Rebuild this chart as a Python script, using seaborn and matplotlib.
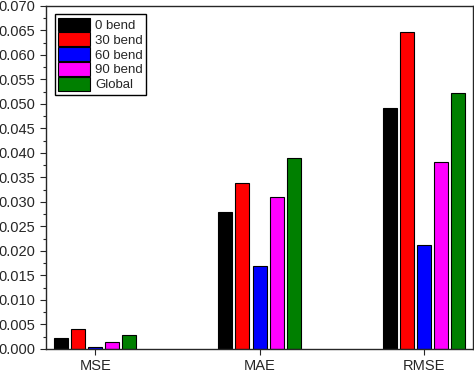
import pandas as pd
import matplotlib.pyplot as plt
import seaborn as sns
from matplotlib.ticker import MultipleLocator

metrics = ['MSE', 'MAE', 'RMSE']
series = ['0 bend', '30 bend', '60 bend', '90 bend', 'Global']
bend0 = [0.0023, 0.0280, 0.0491]
bend30 = [0.0041, 0.0338, 0.0646]
bend60 = [0.0004, 0.0169, 0.0213]
bend90 = [0.0014, 0.0311, 0.0382]
glob = [0.0028, 0.0390, 0.0522]
colors = ['#000000', '#ff0000', '#0000ff', '#ff00ff', '#007f00']

rows = []
for name, vals in zip(series, [bend0, bend30, bend60, bend90, glob]):
    for m, v in zip(metrics, vals):
        rows.append({'metric': m, 'series': name, 'value': v})
df = pd.DataFrame(rows)

sns.set_style('ticks')
plt.rcParams['font.family'] = ['Liberation Sans', 'DejaVu Sans']

fig = plt.figure(figsize=(4.74, 3.72), dpi=100)
ax = fig.add_axes([0.097, 0.062, 0.901, 0.922])

sns.barplot(data=df, x='metric', y='value', hue='series', order=metrics,
            hue_order=series, palette=colors, width=0.52, gap=0.18,
            edgecolor='black', linewidth=0.8, saturation=1, ax=ax)

ax.set_xlim(-0.3, 2.3)
ax.set_ylim(0, 0.07)
ax.yaxis.set_major_locator(MultipleLocator(0.005))
ax.yaxis.set_minor_locator(MultipleLocator(0.0025))
ax.yaxis.set_major_formatter(plt.FormatStrFormatter('%.3f'))
ax.tick_params(axis='both', labelsize=10.5, direction='out', length=4, width=0.8)
ax.tick_params(axis='y', which='minor', length=2.5, width=0.8)
ax.set_xlabel('')
ax.set_ylabel('')
for sp in ax.spines.values():
    sp.set_visible(True)
    sp.set_linewidth(1.0)

ax.legend(loc='upper left', fontsize=9.5, frameon=True, fancybox=False,
          edgecolor='black', framealpha=1, handlelength=2.4, handleheight=1.2,
          labelspacing=0.05, borderpad=0.25, handletextpad=0.4,
          bbox_to_anchor=(0.005, 0.995))

fig.savefig('out.png', dpi=100)
